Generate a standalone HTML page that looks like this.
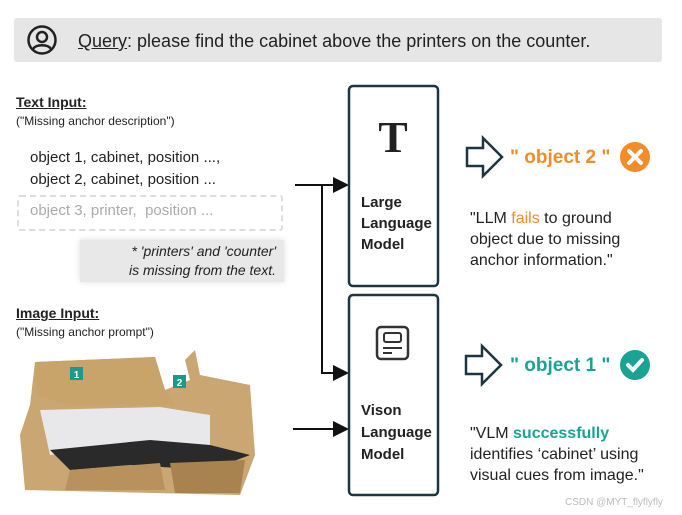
<!DOCTYPE html>
<html><head><style>
body{margin:0;width:682px;height:515px;background:#fff;position:relative;overflow:hidden;font-family:"Liberation Sans",sans-serif;color:#222}
.a{position:absolute;white-space:nowrap}
</style></head><body>
<div class="a" style="left:14px;top:18px;width:648px;height:44px;background:#e6e6e6;border-radius:3px"></div>
<svg class="a" style="left:26px;top:24px" width="32" height="32" viewBox="0 0 32 32"><circle cx="16" cy="16" r="13.5" fill="none" stroke="#222" stroke-width="2.5"/><circle cx="16" cy="13" r="5" fill="none" stroke="#222" stroke-width="2.5"/><path d="M7 25c3-5 15-5 18 0" fill="none" stroke="#222" stroke-width="2.5"/></svg>
<div class="a" style="left:78px;top:31px;font-size:18px"><u>Query</u>: please find the cabinet above the printers on the counter.</div>

<div class="a" style="left:16px;top:94px;font-size:14px;font-weight:bold"><u>Text Input:</u></div>
<div class="a" style="left:16px;top:114px;font-size:12px">("Missing anchor description")</div>
<div class="a" style="left:30px;top:147px;font-size:15px;line-height:22px">object 1, cabinet, position ...,<br>object 2, cabinet, position ...</div>
<div class="a" style="left:17px;top:195px;width:262px;height:32px;border:2px dashed #ddd;border-radius:3px"></div>
<div class="a" style="left:30px;top:202px;font-size:15px;color:#aaa">object 3, printer,&nbsp; position ...</div>
<div class="a" style="left:80px;top:240px;width:204px;height:42px;background:#e8e8e8;box-shadow:0 0 6px #ddd"></div>
<div class="a" style="left:90px;top:242px;width:186px;font-size:14px;font-style:italic;text-align:right;line-height:19px">* 'printers' and 'counter'<br>is missing from the text.</div>

<div class="a" style="left:16px;top:305px;font-size:14px;font-weight:bold"><u>Image Input:</u></div>
<div class="a" style="left:16px;top:325px;font-size:12px">("Missing anchor prompt")</div>
<svg class="a" style="left:10px;top:345px" width="255" height="150">
<polygon points="25,17 145,12 155,45 180,35 175,15 185,5 190,30 240,40 245,110 230,150 15,145 10,90 20,60" fill="#c9a672"/>
<polygon points="25,17 145,12 155,45 165,60 60,60 28,50" fill="#c8a36a"/>
<polygon points="30,65 150,62 200,70 200,100 120,100 40,110" fill="#e8e8ea"/>
<polygon points="40,105 140,95 200,100 240,110 200,125 120,120 60,125" fill="#2a2a2a"/>
<polygon points="60,125 150,118 155,145 55,145" fill="#b8915c"/>
<polygon points="160,118 235,115 230,148 165,148" fill="#a8834f"/>
<rect x="60" y="22" width="13" height="13" fill="#1a9a8a"/><text x="66.5" y="33" font-size="10" font-weight="bold" fill="#fff" text-anchor="middle" font-family="Liberation Sans">1</text>
<rect x="163" y="30" width="13" height="13" fill="#1a9a8a"/><text x="169.5" y="41" font-size="10" font-weight="bold" fill="#fff" text-anchor="middle" font-family="Liberation Sans">2</text>
</svg>

<svg class="a" style="left:0;top:0" width="682" height="515">
<defs><marker id="m" markerWidth="8" markerHeight="8" refX="7" refY="4" orient="auto"><path d="M0,0 L8,4 L0,8z" fill="#111"/></marker></defs>
<g stroke="#111" stroke-width="2" fill="none">
<path d="M295 185 H347" marker-end="url(#m)"/>
<path d="M322 185 V373 H347" marker-end="url(#m)"/>
<path d="M293 429 H347" marker-end="url(#m)"/>
</g>
<rect x="349" y="86" width="89" height="200" rx="4" fill="none" stroke="#1d3540" stroke-width="2.5"/>
<rect x="349" y="295" width="89" height="200" rx="4" fill="none" stroke="#1d3540" stroke-width="2.5"/>
<text x="393" y="152" font-size="44" font-weight="bold" text-anchor="middle" font-family="Liberation Serif" fill="#222">T</text>
<rect x="377" y="327" width="31" height="32" rx="4" fill="none" stroke="#333" stroke-width="2.5"/>
<rect x="384" y="333" width="17" height="9" rx="2" fill="none" stroke="#333" stroke-width="2"/>
<path d="M383 348 H402 M383 353 H392" stroke="#333" stroke-width="2"/>
<g fill="none" stroke="#1d3540" stroke-width="2.5">
<path d="M467 148 H483 V138 L502 157 L483 176 V166 H467 Z"/>
<path d="M466 356 H482 V346 L501 365 L482 384 V374 H466 Z"/>
</g>
<circle cx="635" cy="157" r="15" fill="#f28c28"/>
<path d="M629 151 L641 163 M641 151 L629 163" stroke="#fff" stroke-width="4" stroke-linecap="round"/>
<circle cx="635" cy="365" r="15" fill="#1aa393"/>
<path d="M628 365 L633 370 L642 360" stroke="#fff" stroke-width="4" fill="none" stroke-linecap="round"/>
</svg>
<div class="a" style="left:361px;top:192px;font-size:15px;font-weight:bold;line-height:21px">Large<br>Language<br>Model</div>
<div class="a" style="left:361px;top:400px;font-size:15px;font-weight:bold;line-height:22px">Vison<br>Language<br>Model</div>
<div class="a" style="left:510px;top:147px;font-size:19px;font-weight:bold;color:#f28c28">" object 2 "</div>
<div class="a" style="left:510px;top:355px;font-size:19px;font-weight:bold;color:#1aa393">" object 1 "</div>
<div class="a" style="left:470px;top:208px;font-size:16px;line-height:21px">"LLM <b style="color:#f28c28;font-weight:normal">fails</b> to ground<br>object due to missing<br>anchor information."</div>
<div class="a" style="left:470px;top:423px;font-size:16px;line-height:21px">"VLM <span style="color:#1aa393;font-weight:bold">successfully</span><br>identifies ‘cabinet’ using<br>visual cues from image."</div>
<div class="a" style="left:565px;top:497px;font-size:10px;color:#bbb">CSDN @MYT_flyflyfly</div>
</body></html>
